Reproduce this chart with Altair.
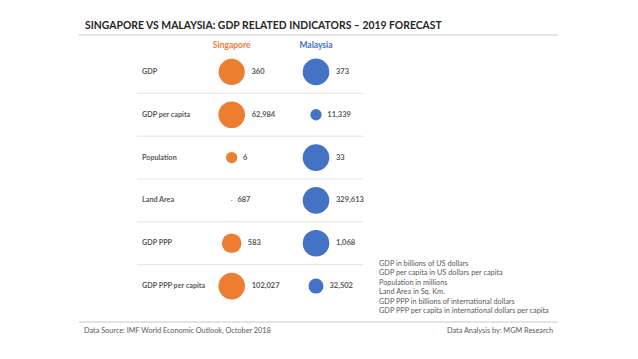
import altair as alt
import pandas as pd
import math

indicators = ["GDP", "GDP per capita", "Population", "Land Area", "GDP PPP", "GDP PPP per capita"]
singapore = [360, 62984, 6, 687, 583, 102027]
malaysia = [373, 11339, 33, 329613, 1068, 32502]
countries = ["Singapore", "Malaysia"]
colors = ["#ED7D31", "#4472C4"]
notes = [
    "GDP in billions of US dollars",
    "GDP per capita in US dollars per capita",
    "Population in millions",
    "Land Area in Sq. Km.",
    "GDP PPP in billions of international dollars",
    "GDP PPP per capita in international dollars per capita",
]
title_text = "SINGAPORE VS MALAYSIA: GDP RELATED INDICATORS \u2013 2019 FORECAST"
source_text = "Data Source: IMF World Economic Outlook, October 2018"
credit_text = "Data Analysis by: MGM Research"

MAX_AREA = 707.0
rows = []
for ind, s, m in zip(indicators, singapore, malaysia):
    mx = max(s, m)
    for c, v in (("Singapore", s), ("Malaysia", m)):
        rel = v / mx
        rows.append({
            "indicator": ind,
            "country": c,
            "value": v,
            "rel": rel,
            "label": f"{v:,}",
            "off": math.sqrt(rel * MAX_AREA / math.pi) + 5,
        })
df = pd.DataFrame(rows)

FONT = "Lato"
GRAY = "#595959"

xs = alt.Scale(type="point", domain=countries, range=[223.7, 308], padding=0)
ys = alt.Scale(type="band", domain=indicators, range=[42.5, 299.5], paddingInner=0, paddingOuter=0)
cs = alt.Scale(domain=countries, range=colors)

base = alt.Chart(df)

circles = base.mark_circle(opacity=1).encode(
    x=alt.X("country:N", scale=xs, axis=None),
    y=alt.Y("indicator:N", scale=ys, axis=None),
    size=alt.Size("rel:Q", scale=alt.Scale(type="linear", domain=[0, 1], range=[0, MAX_AREA]), legend=None),
    color=alt.Color("country:N", scale=cs, legend=None),
)

values = base.mark_text(align="left", baseline="middle", font=FONT, fontSize=7.5, fontWeight="bold", color=GRAY).encode(
    x=alt.X("country:N", scale=xs, axis=None),
    xOffset=alt.XOffset("off:Q", scale=None),
    y=alt.Y("indicator:N", scale=ys, axis=None),
    text="label:N",
)

row_df = pd.DataFrame({"indicator": indicators})
row_labels = alt.Chart(row_df).mark_text(align="left", baseline="middle", font=FONT, fontSize=7.2, fontWeight="bold", color=GRAY).encode(
    x=alt.value(134),
    y=alt.Y("indicator:N", scale=ys, axis=None),
    text="indicator:N",
)

sep_df = pd.DataFrame({"indicator": indicators[1:]})
seps = alt.Chart(sep_df).mark_rule(color="#e3e3e3", strokeWidth=1).encode(
    x=alt.value(129), x2=alt.value(355),
    y=alt.Y("indicator:N", scale=ys, axis=None, bandPosition=0),
)

head_df = pd.DataFrame({"country": countries})
headers = alt.Chart(head_df).mark_text(align="center", baseline="middle", font=FONT, fontSize=8.5, fontWeight="bold").encode(
    x=alt.X("country:N", scale=xs, axis=None),
    y=alt.value(37),
    text="country:N",
    color=alt.Color("country:N", scale=cs, legend=None),
)

one = pd.DataFrame({"k": [0]})
title = alt.Chart(one).mark_text(text=title_text, align="left", baseline="alphabetic", font=FONT, fontSize=10.4, fontWeight="bold", color="#262626").encode(
    x=alt.value(77), y=alt.value(21))
title_line = alt.Chart(one).mark_rule(color="#c8c8c8", strokeWidth=1).encode(
    x=alt.value(71), x2=alt.value(550), y=alt.value(27))
foot_line = alt.Chart(one).mark_rule(color="#c8c8c8", strokeWidth=1).encode(
    x=alt.value(71), x2=alt.value(550), y=alt.value(314))
source = alt.Chart(one).mark_text(text=source_text, align="left", baseline="alphabetic", font=FONT, fontSize=7.3, color=GRAY).encode(
    x=alt.value(76), y=alt.value(325))
credit = alt.Chart(one).mark_text(text=credit_text, align="right", baseline="alphabetic", font=FONT, fontSize=7.3, color=GRAY).encode(
    x=alt.value(545), y=alt.value(325))
notes_mark = alt.Chart(one).mark_text(text=notes, align="left", baseline="top", font=FONT, fontSize=7.3, lineHeight=9.4, color=GRAY).encode(
    x=alt.value(371), y=alt.value(252))

chart = alt.layer(
    seps, title_line, foot_line, circles, values, row_labels, headers, title, source, credit, notes_mark
).properties(
    width=622, height=343,
    autosize=alt.AutoSizeParams(type="none"),
    padding=0,
).configure_view(stroke=None)

chart.save("out.html", embed_options={"renderer": "svg", "actions": False})
